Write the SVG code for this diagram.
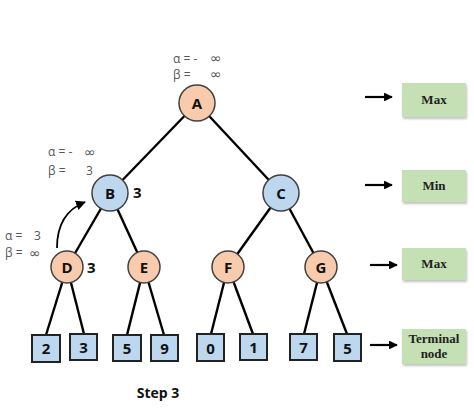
<svg xmlns="http://www.w3.org/2000/svg" width="474" height="416" viewBox="0 0 474 416">
<style>
.edge{stroke:#000;stroke-width:2.4;fill:none}
.max{fill:#F8CBAD;stroke:#404040;stroke-width:1.5}
.min{fill:#BDD7EE;stroke:#404040;stroke-width:1.5}
.leaf{fill:#BDD7EE;stroke:#222;stroke-width:2}
.lbl{font-family:"Open Sans","Liberation Sans",sans-serif;font-weight:bold;font-size:15px;fill:#111;text-anchor:middle;dominant-baseline:central}
.val{font-family:"Open Sans","Liberation Sans",sans-serif;font-weight:bold;font-size:15px;fill:#111;dominant-baseline:central}
.ab{font-family:"Open Sans","Liberation Sans",sans-serif;font-size:12px;fill:#555}
.inf{font-family:"DejaVu Sans",sans-serif;font-size:14px;fill:#555}
.box{fill:#C5E0B4;filter:url(#sh)}
.bt{font-family:"Liberation Serif",serif;font-weight:bold;font-size:13px;fill:#222;text-anchor:middle}
.arr{stroke:#000;stroke-width:2.2;fill:none;marker-end:url(#ah)}
</style>
<defs>
<marker id="ah" viewBox="0 0 10 10" refX="9" refY="5" markerWidth="4" markerHeight="4" orient="auto"><path d="M0,0 L10,5 L0,10 z" fill="#000"/></marker>
<marker id="ah2" viewBox="0 0 10 10" refX="9" refY="5" markerWidth="10" markerHeight="10" markerUnits="userSpaceOnUse" orient="auto"><path d="M0,0 L10,5 L0,10 z" fill="#000"/></marker>
<filter id="sh" x="-10%" y="-10%" width="125%" height="130%"><feDropShadow dx="1" dy="2" stdDeviation="1" flood-color="#999" flood-opacity="0.6"/></filter>
</defs>
<rect width="474" height="416" fill="#fff"/>
<g id="connectors">
<line class="edge" x1="197" y1="103" x2="110" y2="193"/>
<line class="edge" x1="197" y1="103" x2="281" y2="193"/>
<line class="edge" x1="110" y1="193" x2="67" y2="267"/>
<line class="edge" x1="110" y1="193" x2="144" y2="267"/>
<line class="edge" x1="281" y1="193" x2="228" y2="267"/>
<line class="edge" x1="281" y1="193" x2="321" y2="267"/>
<line class="edge" x1="67" y1="267" x2="46" y2="335"/>
<line class="edge" x1="67" y1="267" x2="84" y2="334"/>
<line class="edge" x1="144" y1="267" x2="127" y2="335"/>
<line class="edge" x1="144" y1="267" x2="164" y2="335"/>
<line class="edge" x1="228" y1="267" x2="211" y2="334"/>
<line class="edge" x1="228" y1="267" x2="253" y2="334"/>
<line class="edge" x1="321" y1="267" x2="304" y2="334"/>
<line class="edge" x1="321" y1="267" x2="347" y2="334"/>
<path d="M57,248 Q57,213 85,202" stroke="#000" stroke-width="1.8" fill="none" marker-end="url(#ah2)"/>
<line class="arr" x1="365" y1="97" x2="392" y2="97"/>
<line class="arr" x1="365" y1="185" x2="392" y2="185"/>
<line class="arr" x1="370" y1="265" x2="397" y2="265"/>
<line class="arr" x1="370" y1="345" x2="397" y2="345"/>
</g>
<g id="nodeA"><circle class="max" cx="197" cy="103" r="18"/><text class="lbl" x="197" y="103">A</text>
<text class="ab" x="173" y="63">α = -</text><text class="inf" x="210" y="63" font-size="13">∞</text>
<text class="ab" x="173" y="79">β =</text><text class="inf" x="210" y="79" font-size="13">∞</text></g>
<g id="nodeB"><circle class="min" cx="110" cy="193" r="18"/><text class="lbl" x="110" y="193">B</text><text class="val" x="133" y="192">3</text>
<text class="ab" x="48" y="156">α = -</text><text class="inf" x="84" y="157">∞</text>
<text class="ab" x="48" y="175">β =</text><text class="ab" x="86" y="175" font-size="15">3</text></g>
<g id="nodeC"><circle class="min" cx="281" cy="193" r="18"/><text class="lbl" x="281" y="193">C</text></g>
<g id="nodeD"><circle class="max" cx="67" cy="267" r="16"/><text class="lbl" x="67" y="267">D</text><text class="val" x="87" y="267">3</text>
<text class="ab" x="5" y="240">α =</text><text class="ab" x="34" y="240" font-size="15">3</text>
<text class="ab" x="5" y="257">β =</text><text class="inf" x="29" y="258">∞</text></g>
<g id="nodeE"><circle class="max" cx="144" cy="267" r="16"/><text class="lbl" x="144" y="267">E</text></g>
<g id="nodeF"><circle class="max" cx="228" cy="267" r="16"/><text class="lbl" x="228" y="267">F</text></g>
<g id="nodeG"><circle class="max" cx="321" cy="267" r="16"/><text class="lbl" x="321" y="267">G</text></g>
<g id="leaf2"><rect class="leaf" x="32" y="335" width="28" height="27"/><text class="lbl" x="46" y="348">2</text></g>
<g id="leaf3"><rect class="leaf" x="70" y="334" width="27" height="26"/><text class="lbl" x="83.5" y="347">3</text></g>
<g id="leaf5a"><rect class="leaf" x="113" y="335" width="28" height="26"/><text class="lbl" x="127" y="348">5</text></g>
<g id="leaf9"><rect class="leaf" x="151" y="335" width="27" height="26"/><text class="lbl" x="164.5" y="348">9</text></g>
<g id="leaf0"><rect class="leaf" x="197" y="334" width="27" height="27"/><text class="lbl" x="210.5" y="348">0</text></g>
<g id="leaf1"><rect class="leaf" x="240" y="334" width="27" height="26"/><text class="lbl" x="253.5" y="347">1</text></g>
<g id="leaf7"><rect class="leaf" x="290" y="334" width="27" height="26"/><text class="lbl" x="303.5" y="347">7</text></g>
<g id="leaf5b"><rect class="leaf" x="334" y="334" width="27" height="27"/><text class="lbl" x="347.5" y="348">5</text></g>
<g id="boxMax1"><rect class="box" x="402" y="83" width="64" height="34"/><text class="bt" x="434" y="104">Max</text></g>
<g id="boxMin"><rect class="box" x="402" y="170" width="64" height="32"/><text class="bt" x="434" y="190">Min</text></g>
<g id="boxMax2"><rect class="box" x="402" y="248" width="64" height="32"/><text class="bt" x="434" y="268">Max</text></g>
<g id="boxTerm"><rect class="box" x="402" y="329" width="64" height="35"/><text class="bt" x="434" y="343">Terminal</text><text class="bt" x="434" y="358">node</text></g>
<text x="158" y="398" font-family="'Open Sans','Liberation Sans',sans-serif" font-weight="bold" font-size="14" fill="#111" text-anchor="middle">Step 3</text>
</svg>
